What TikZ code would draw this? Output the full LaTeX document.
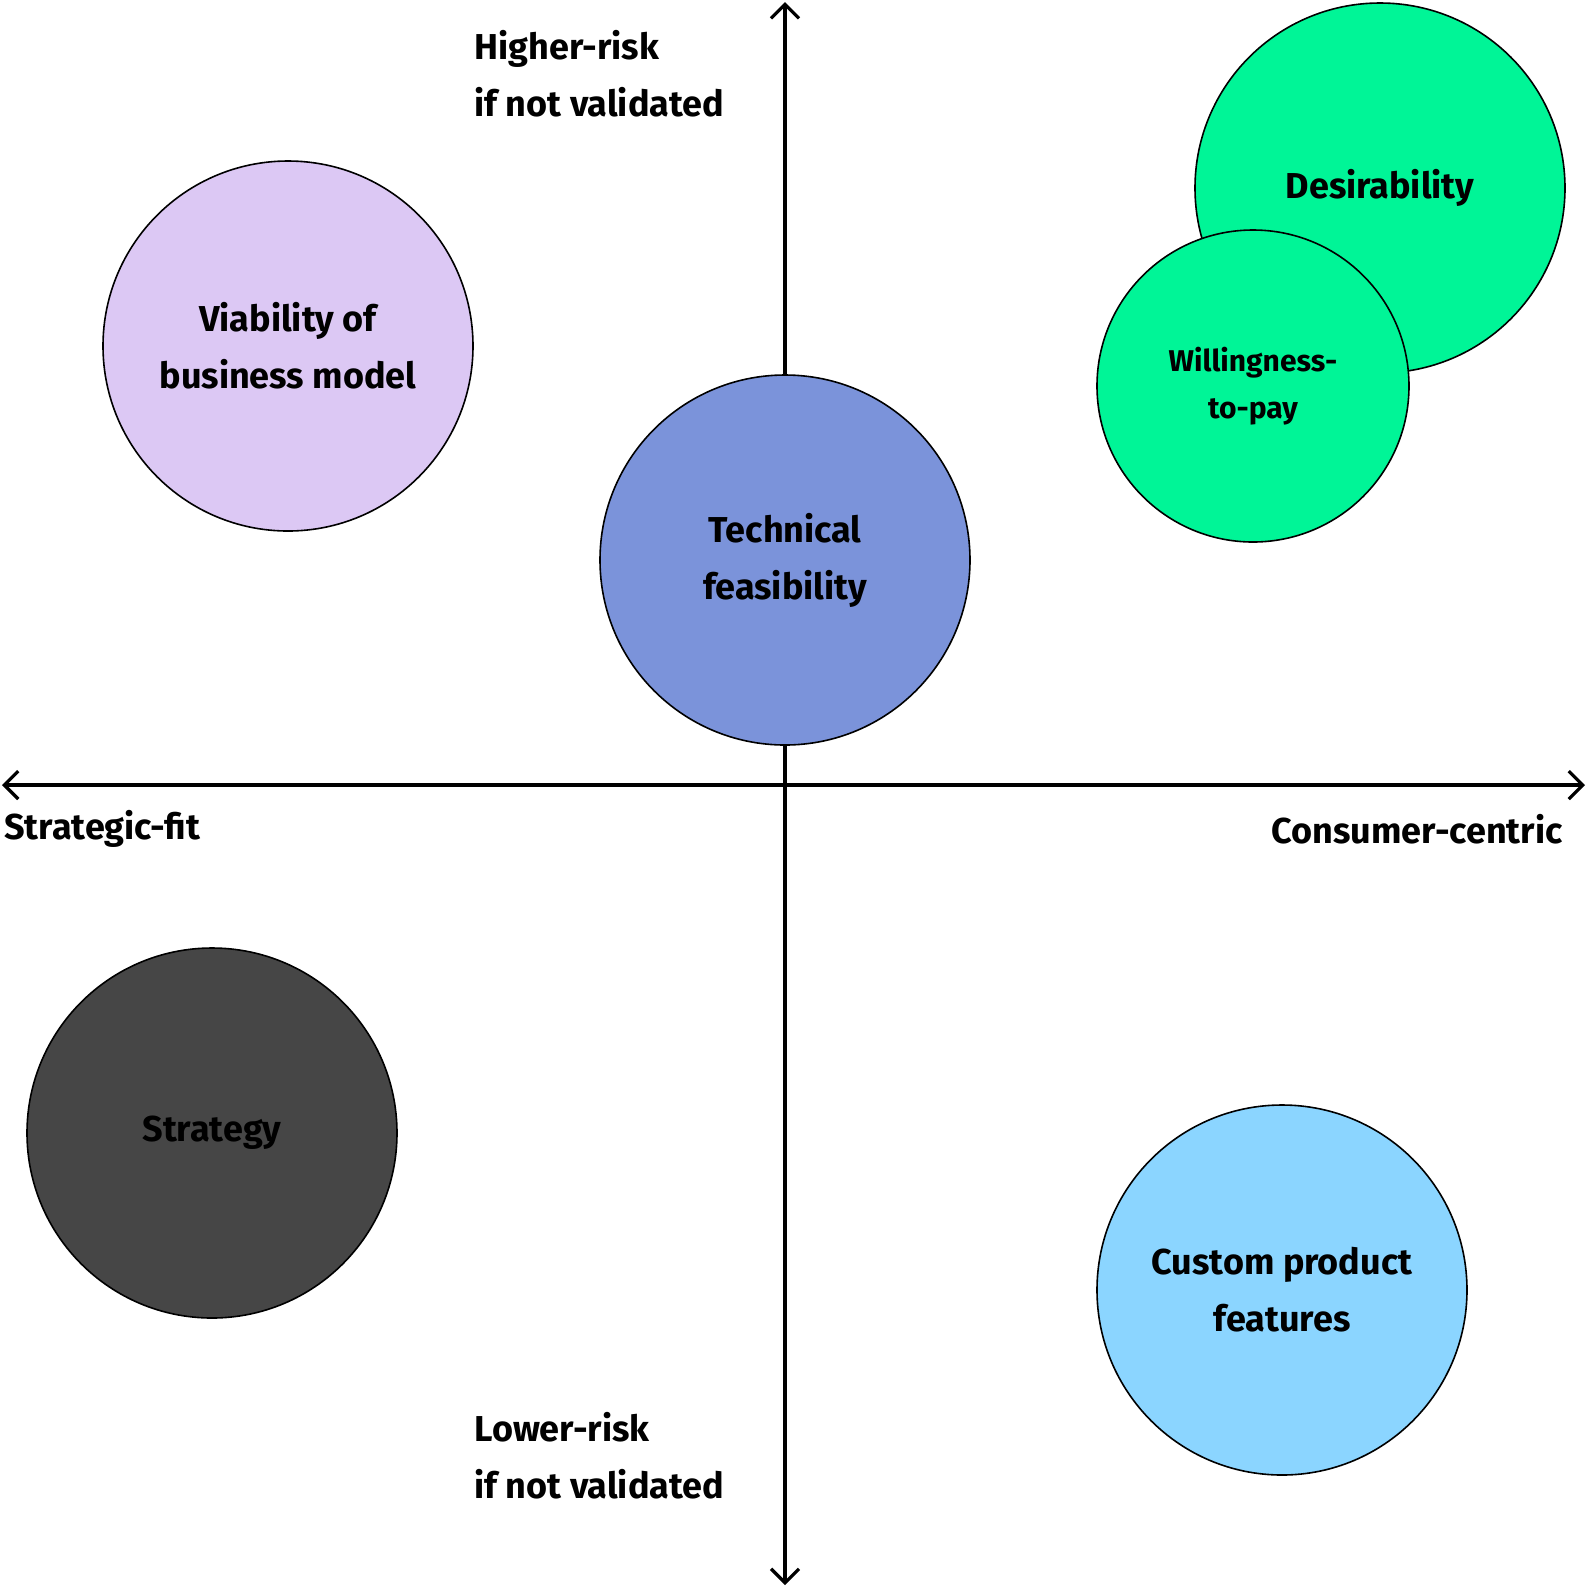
\documentclass[tikz,border=0pt]{standalone}
\usepackage{fontspec}
\setmainfont{Fira Sans}
\usetikzlibrary{arrows.meta}
\definecolor{cvia}{HTML}{DCC8F4}
\definecolor{ctech}{HTML}{7B93DA}
\definecolor{cdes}{HTML}{00F597}
\definecolor{cstr}{HTML}{464646}
\definecolor{ccus}{HTML}{8BD5FF}
\begin{document}
\begin{tikzpicture}[x=0.5pt,y=-0.5pt,
  bub/.style={circle,draw=black,line width=0.8pt,minimum size=185pt,inner sep=0pt,align=center,font=\fontsize{18}{28.5}\selectfont\bfseries},
  ax/.style={line width=1.6pt,{Straight Barb[length=7pt,width=14pt]}-{Straight Barb[length=7pt,width=14pt]}},
  lab/.style={inner sep=0pt,font=\fontsize{18}{28.5}\selectfont\bfseries,align=left}]
\useasboundingbox (0,0) rectangle (1587,1587);
\coordinate (T) at (785,2); \coordinate (B) at (785,1585);
\coordinate (L) at (2,785); \coordinate (R) at (1585,785);
\draw[ax] (T) -- (B);
\draw[ax] (L) -- (R);
\node[bub,fill=cvia] (via) at (288,346) {Viability of\\business model};
\node[bub,fill=ctech] (tech) at (785,560) {Technical\\feasibility};
\node[bub,fill=cdes] (des) at (1380,188) {Desirability};
\node[bub,fill=cdes,minimum size=156pt,font=\fontsize{15}{23.5}\selectfont\bfseries] (wtp) at (1253,386) {Willingness-\\to-pay};
\node[bub,fill=cstr] (str) at (212,1133) {Strategy};
\node[bub,fill=ccus] (cus) at (1282,1290) {Custom product\\features};
\node[lab,anchor=west] (hr) at (474,74) {Higher-risk\\if not validated};
\node[lab,anchor=west] (lr) at (474,1456) {Lower-risk\\if not validated};
\node[lab,anchor=west] (sf) at (4,829) {Strategic-fit};
\node[lab,anchor=east] (cc) at (1563,829) {Consumer-centric};
\end{tikzpicture}
\end{document}
